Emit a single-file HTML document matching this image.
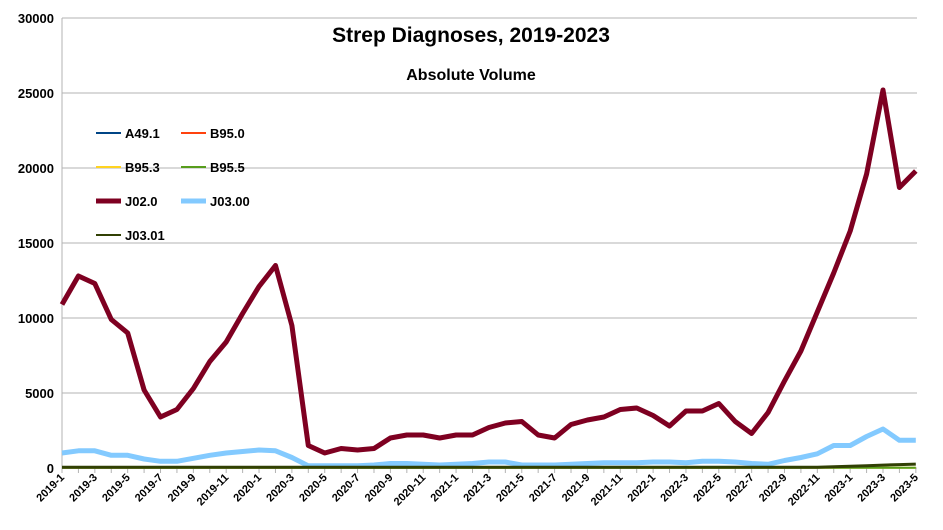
<!DOCTYPE html>
<html><head><meta charset="utf-8"><style>
html,body{margin:0;padding:0;background:#fff;}
svg{display:block;font-family:"Liberation Sans",sans-serif;}
</style></head><body>
<svg id="c" width="943" height="530" xmlns="http://www.w3.org/2000/svg">
<rect width="943" height="530" fill="#fff"/>
<g id="grid"></g>
<text x="471" y="42" text-anchor="middle" font-size="21" font-weight="bold">Strep Diagnoses, 2019-2023</text>
<text x="471" y="80" text-anchor="middle" font-size="16" font-weight="bold">Absolute Volume</text>
<g id="series"></g>
<g font-size="13" font-weight="bold">
<line x1="96" y1="133" x2="121" y2="133" stroke="#004586" stroke-width="2"/><text x="125" y="138">A49.1</text>
<line x1="181" y1="133" x2="206" y2="133" stroke="#ff420e" stroke-width="2"/><text x="210" y="138">B95.0</text>
<line x1="96" y1="167" x2="121" y2="167" stroke="#ffd320" stroke-width="2"/><text x="125" y="172">B95.3</text>
<line x1="181" y1="167" x2="206" y2="167" stroke="#579d1c" stroke-width="2"/><text x="210" y="172">B95.5</text>
<line x1="96" y1="201" x2="121" y2="201" stroke="#7e0021" stroke-width="5"/><text x="125" y="206">J02.0</text>
<line x1="181" y1="201" x2="206" y2="201" stroke="#83caff" stroke-width="5"/><text x="210" y="206">J03.00</text>
<line x1="96" y1="235" x2="121" y2="235" stroke="#314004" stroke-width="2"/><text x="125" y="240">J03.01</text>
</g>
<g id="xl" font-size="11" font-weight="bold"></g>
</svg>
<script>
var X0=62,DX=16.42,Y0=468,S=0.015;
var g=document.getElementById('grid'),h='';
for(var v=0;v<=30000;v+=5000){var y=Y0-v*S;h+='<line x1="62" y1="'+y+'" x2="917" y2="'+y+'" stroke="#b3b3b3" stroke-width="1"/>';h+='<text x="54" y="'+(y+5)+'" text-anchor="end" font-size="13" font-weight="bold">'+v+'</text>';}
h+='<line x1="62" y1="18" x2="62" y2="468" stroke="#b3b3b3"/>';
for(var i=0;i<53;i++){var x=X0+i*DX;h+='<line x1="'+x+'" y1="468" x2="'+x+'" y2="473" stroke="#b3b3b3"/>';}
g.innerHTML=h;
var j02=[10.9,12.8,12.3,9.9,9.0,5.2,3.4,3.9,5.3,7.1,8.4,10.3,12.1,13.5,9.5,1.5,1.0,1.3,1.2,1.3,2.0,2.2,2.2,2.0,2.2,2.2,2.7,3.0,3.1,2.2,2.0,2.9,3.2,3.4,3.9,4.0,3.5,2.8,3.8,3.8,4.3,3.1,2.3,3.7,5.8,7.8,10.4,13.0,15.8,19.6,25.2,18.7,19.8];
var j03=[1.0,1.15,1.15,0.85,0.85,0.6,0.45,0.45,0.65,0.85,1.0,1.1,1.2,1.15,0.7,0.15,0.15,0.15,0.15,0.2,0.3,0.3,0.25,0.2,0.25,0.3,0.4,0.4,0.2,0.2,0.2,0.25,0.3,0.35,0.35,0.35,0.4,0.4,0.35,0.45,0.45,0.4,0.3,0.25,0.5,0.7,0.95,1.1,1.5,1.5,2.1,2.6,1.85,1.85].slice(0,53);
j03=[1.0,1.15,1.15,0.85,0.85,0.6,0.45,0.45,0.65,0.85,1.0,1.1,1.2,1.15,0.7,0.15,0.15,0.15,0.15,0.2,0.3,0.3,0.25,0.2,0.25,0.3,0.4,0.4,0.2,0.2,0.2,0.25,0.3,0.35,0.35,0.35,0.4,0.4,0.35,0.45,0.45,0.4,0.3,0.25,0.5,0.7,0.95,1.1,1.5,1.5,2.1,2.6,1.85,1.85];
j03.splice(47,1);
var j0301=[];for(var i=0;i<53;i++)j0301.push(i<46?0.05:0.05+(i-46)*0.035);
function pts(a){return a.map(function(v,i){return (X0+i*DX).toFixed(1)+','+(Y0-v*1000*S).toFixed(1)}).join(' ');}
var zero=[];for(var i=0;i<53;i++)zero.push(0.02);
var s='';
s+='<polyline points="'+pts(zero)+'" fill="none" stroke="#ffd320" stroke-width="2"/>';
s+='<polyline points="'+pts(zero)+'" fill="none" stroke="#579d1c" stroke-width="2"/>';
s+='<polyline points="'+pts(j03)+'" fill="none" stroke="#83caff" stroke-width="5" stroke-linejoin="round"/>';
s+='<polyline points="'+pts(j0301)+'" fill="none" stroke="#314004" stroke-width="3"/>';
s+='<polyline points="'+pts(j02)+'" fill="none" stroke="#7e0021" stroke-width="5" stroke-linejoin="round"/>';
document.getElementById('series').innerHTML=s;
var xl='';
for(var i=0;i<53;i+=2){var y=2019+Math.floor(i/12),m=i%12+1,x=X0+i*DX;
xl+='<text transform="translate('+(x+3)+',478) rotate(-45)" text-anchor="end">'+y+'-'+m+'</text>';}
document.getElementById('xl').innerHTML=xl;
</script>
</body></html>
